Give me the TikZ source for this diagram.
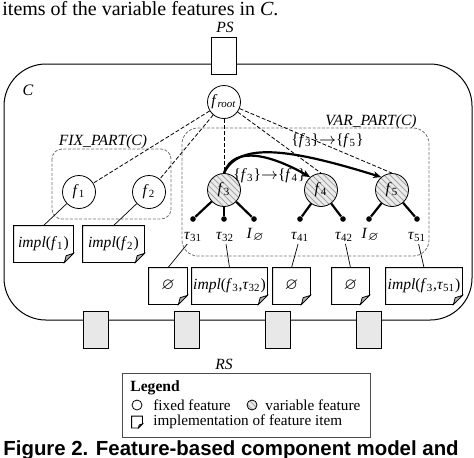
\documentclass[tikz,border=0pt]{standalone}
\usepackage{amssymb}
\usepackage{fontspec}
\setmainfont{Liberation Serif}
\newfontfamily\capfont{Liberation Sans}
\usetikzlibrary{patterns,arrows.meta,positioning}
% note with a folded lower right corner, drawn round a named node
\newcommand\foldnote[2][4.5pt]{%
  \draw (#2.north west) -- (#2.north east) -- ([yshift=#1]#2.south east)
    -- ([xshift=-#1]#2.south east) -- (#2.south west) -- cycle;
  \draw[fill=black!30] ([yshift=#1]#2.south east) -- ([xshift=-#1]#2.south east)
    -- ([xshift=-0.8*#1,yshift=0.75*#1]#2.south east) -- cycle;}
% italic letter with a subscript, set as text
\newcommand\sub[2]{\textit{#1}\textsubscript{#2}}

\begin{document}
\begin{tikzpicture}[x=0.5pt,y=-0.5pt,
    lbl/.style={font=\fontsize{7.8}{9}\selectfont,inner sep=1pt},
    feat/.style={circle,draw,minimum size=16.5pt,inner sep=0pt,font=\fontsize{7.8}{9}\selectfont},
    varfeat/.style={feat,preaction={fill=black!8},pattern=north west lines,pattern color=black!35},
    leaf/.style={circle,fill,inner sep=0pt,minimum size=2.8pt},
    implnote/.style={minimum height=18pt,inner sep=0pt,font=\fontsize{7.8}{9}\selectfont},
    port/.style={draw,fill=white,minimum width=12.5pt,minimum height=18.5pt,inner sep=0pt},
    partbox/.style={draw=black!55,dash pattern=on 1.5pt off 0.8pt,rounded corners=#1},
    featlink/.style={dash pattern=on 2pt off 1pt,line width=0.4pt},
    fieldlink/.style={line width=0.35pt},
    branch/.style={line width=1.1pt},
    trans/.style={line width=1.1pt,-{Stealth[length=4pt,width=3.4pt]}},
    legtext/.style={font=\fontsize{7.6}{9}\selectfont,inner sep=1.5pt,anchor=west}]
  \clip (0,0) rectangle (474,457);

  %%%%% text of the page round the figure %%%%%
  \node[anchor=base west,inner sep=0pt,font=\fontsize{10}{12}\selectfont] (intro) at (2,15)
    {items of the variable features in \textit{C}.};
  \node[anchor=base west,inner sep=0pt,font=\capfont\bfseries\fontsize{10.2}{12}\selectfont] (caption) at (3,455)
    {Figure 2. Feature-based component model and};

  %%%%% component C with its ports %%%%%
  \draw[line width=0.5pt,rounded corners=21pt] (4,64) rectangle (472,320);
  \node[lbl,font=\fontsize{8}{9}\selectfont] (clabel) at (28,90) {\textit{C}};

  \node[port] (ps) at (223.5,55.5) {};
  \node[lbl] (pslabel) at (225,27) {\textit{PS}};
  \foreach \px [count=\i] in {95.5,187,277.5,369}
    \node[port,fill=black!9] (rs\i) at (\px,329.5) {};
  \node[lbl] (rslabel) at (224,364) {\textit{RS}};

  %%%%% fixed and variable parts %%%%%
  \draw[partbox=5pt] (52,149) rectangle (171,219);
  \node[lbl] (fixlabel) at (103,142) {\textit{FIX\_PART(C)}};
  \draw[partbox=8pt] (182,128) rectangle (429,256);
  \node[lbl] (varlabel) at (371,122) {\textit{VAR\_PART(C)}};

  %%%%% features %%%%%
  \node[feat] (froot) at (224,102) {\sub{f}{\textit{root}}};
  \node[feat] (f1) at (79,192) {\sub{f}{1}};
  \node[feat] (f2) at (149,192) {\sub{f}{2}};
  \node[varfeat] (f3) at (224,190) {\sub{f}{3}};
  \node[varfeat] (f4) at (321,190) {\sub{f}{4}};
  \node[varfeat] (f5) at (392,190) {\sub{f}{5}};

  \draw[featlink] (froot) -- (f1);
  \draw[featlink] (froot) -- (f2);
  \draw[featlink] (froot) -- (f3);
  \draw[featlink] (froot) -- (f4.north);
  \draw[featlink] (froot) -- (f5.north);

  \draw[trans] (f3.north) .. controls +(10,-30) and +(-35,-20) .. (f4.130);
  \draw[trans] (f3.north) .. controls +(15,-32) and +(-90,-28) .. (f5.130);
  \node[lbl] (t34label) at (269.5,176) {\{\sub{f}{3}\}$\rightarrow$\{\sub{f}{4}\}};
  \node[lbl] (t35label) at (327.5,141) {\{\sub{f}{3}\}$\rightarrow$\{\sub{f}{5}\}};

  %%%%% feature items %%%%%
  \foreach \nm/\px in {d31/193,d32/224,d3e/254,d41/300,d42/343,d5e/369,d51/417}
    \node[leaf] (\nm) at (\px,219) {};
  \foreach \ft/\nm in {f3/d31,f3/d32,f3/d3e,f4/d41,f4/d42,f5/d5e,f5/d51}
    \draw[branch] (\ft) -- (\nm);

  \node[lbl] (t31) at (193,237) {\sub{τ}{31}};
  \node[lbl] (t32) at (225,237) {\sub{τ}{32}};
  \node[lbl] (i3) at (256,235) {\sub{I}{$\varnothing$}};
  \node[lbl] (t41) at (300,237) {\sub{τ}{41}};
  \node[lbl] (t42) at (344,237) {\sub{τ}{42}};
  \node[lbl] (i5) at (371,235) {\sub{I}{$\varnothing$}};
  \node[lbl] (t51) at (417,237) {\sub{τ}{51}};

  %%%%% implementations %%%%%
  \node[implnote,minimum width=29.5pt] (if1) at (43.5,244) {\textit{impl}(\sub{f}{1})};
  \node[implnote,minimum width=30.5pt] (if2) at (113.5,244) {\textit{impl}(\sub{f}{2})};
  \node[implnote,minimum width=19pt] (n31) at (168,286) {$\varnothing$};
  \node[implnote,minimum width=37.5pt] (n32) at (229.5,286) {\textit{impl}(\sub{f}{3},\sub{τ}{32})};
  \node[implnote,minimum width=18.5pt] (n41) at (291.5,286) {$\varnothing$};
  \node[implnote,minimum width=18.5pt] (n42) at (350.5,286) {$\varnothing$};
  \node[implnote,minimum width=38pt] (n51) at (424,286) {\textit{impl}(\sub{f}{3},\sub{τ}{51})};
  \foreach \nt in {if1,if2,n31,n32,n41,n42,n51}
    {\foldnote{\nt}}

  \draw[fieldlink] (f1) -- (if1.north);
  \draw[fieldlink] (f2) -- (if2.north);
  \foreach \tl/\nt in {t31/n31,t32/n32,t41/n41,t42/n42,t51/n51}
    \draw[fieldlink] (\tl) -- (\nt.north);

  %%%%% legend %%%%%
  \draw[draw=black!70,line width=0.5pt] (122,373) rectangle (370,437);
  \node[legtext,font=\fontsize{7.8}{9}\selectfont\bfseries] (leghead) at (127,388) {Legend};
  \node[circle,draw,minimum size=5pt,inner sep=0pt] (legfix) at (137,405) {};
  \node[legtext] (legfixtext) at (150,405) {fixed feature};
  \node[varfeat,minimum size=5pt] (legvar) at (252,405) {};
  \node[legtext] (legvartext) at (262,405) {variable feature};
  \node[implnote,minimum width=5pt,minimum height=5.5pt] (legnote) at (137,422) {};
  \foldnote[2pt]{legnote}
  \node[legtext] (legnotetext) at (150,422) {implementation of feature item};
\end{tikzpicture}
\end{document}
